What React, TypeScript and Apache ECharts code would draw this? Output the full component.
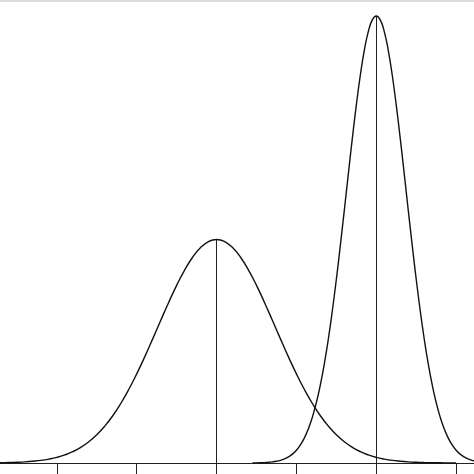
import React, { useEffect, useRef } from "react";
import * as echarts from "echarts";

// x positions (axis units, tick interval 1) and density values
const wideX = [
  -2.9, -2.8, -2.7, -2.6, -2.5, -2.4, -2.3, -2.2, -2.1, -2.0, -1.9, -1.8, -1.7, -1.6, -1.5, -1.4, -1.3, -1.2, -1.1, -1.0,
  -0.9, -0.8, -0.7, -0.6, -0.5, -0.4, -0.3, -0.2, -0.1, 0.0, 0.1, 0.2, 0.3, 0.4, 0.5, 0.6, 0.7, 0.8, 0.9, 1.0,
  1.1, 1.2, 1.3, 1.4, 1.5, 1.6, 1.7, 1.8, 1.9, 2.0, 2.1, 2.2, 2.3, 2.4, 2.5, 2.6, 2.7, 2.8, 2.9, 3.0,
];
const wideY = [
  0.0002, 0.0004, 0.0006, 0.001, 0.0016, 0.0025, 0.0039, 0.0058, 0.0087, 0.0126, 0.0181, 0.0254, 0.0351, 0.0475, 0.0632, 0.0825, 0.1057, 0.1331, 0.1644, 0.1994,
  0.2375, 0.2777, 0.3187, 0.3592, 0.3974, 0.4316, 0.4603, 0.4819, 0.4954, 0.5, 0.4954, 0.4819, 0.4603, 0.4316, 0.3974, 0.3592, 0.3187, 0.2777, 0.2375, 0.1994,
  0.1644, 0.1331, 0.1057, 0.0825, 0.0632, 0.0475, 0.0351, 0.0254, 0.0181, 0.0126, 0.0087, 0.0058, 0.0039, 0.0025, 0.0016, 0.001, 0.0006, 0.0004, 0.0002, 0.0001,
];

const narrowX = [
  0.45, 0.5, 0.55, 0.6, 0.65, 0.7, 0.75, 0.8, 0.85, 0.9, 0.95, 1.0, 1.05, 1.1, 1.15, 1.2, 1.25, 1.3, 1.35, 1.4, 1.45, 1.5,
  1.55, 1.6, 1.65, 1.7, 1.75, 1.8, 1.85, 1.9, 1.95, 2.0, 2.05, 2.1, 2.15, 2.2, 2.25, 2.3, 2.35, 2.4, 2.45, 2.5,
  2.55, 2.6, 2.65, 2.7, 2.75, 2.8, 2.85, 2.9, 2.95, 3.0, 3.05, 3.1, 3.15, 3.2, 3.25, 3.3, 3.35, 3.4, 3.45, 3.5, 3.55, 3.6,
];
const narrowY = [
  0.0002, 0.00034, 0.0006, 0.00094, 0.0015, 0.00246, 0.0039, 0.00598, 0.0091, 0.01354, 0.0198, 0.0286, 0.0404, 0.0561, 0.0766, 0.1027, 0.1353, 0.1751, 0.2226, 0.278, 0.3411, 0.4111,
  0.4868, 0.5661, 0.6469, 0.7261, 0.8007, 0.8674, 0.9231, 0.9651, 0.9912, 1.0, 0.9912, 0.9651, 0.9231, 0.8674, 0.8007, 0.7261,
  0.6469, 0.5661, 0.4868, 0.4111, 0.3411, 0.278, 0.2226, 0.1751, 0.1353, 0.1027, 0.0766, 0.0561, 0.0404, 0.0286, 0.0198, 0.01354, 0.0091, 0.00598, 0.0039, 0.00246, 0.0015, 0.00094, 0.0006, 0.00034, 0.0002, 0.0001,
];

const means = [0, 2];
const peaks = [0.5, 1.0];

export default function App() {
  const ref = useRef<HTMLDivElement>(null);
  useEffect(() => {
    if (!ref.current) return;
    const chart = echarts.init(ref.current, null, { renderer: "svg" });
    const lineStyle = { color: "#111", width: 1.4 };
    chart.setOption({
      animation: false,
      backgroundColor: "#ffffff",
      grid: { left: -23, right: -62, top: 16, bottom: 11, containLabel: false, outerBoundsMode: "none" },
      xAxis: {
        type: "value",
        min: -3,
        max: 4,
        interval: 1,
        axisLine: { show: true, onZero: false, lineStyle: { color: "#222", width: 1.2 } },
        axisTick: { show: true, inside: false, length: 12, lineStyle: { color: "#222", width: 1 } },
        axisLabel: { show: false },
        splitLine: { show: false },
      },
      yAxis: {
        type: "value",
        min: 0,
        max: 1,
        show: false,
        splitLine: { show: false },
      },
      graphic: [
        { type: "rect", shape: { x: 0, y: 0, width: 474, height: 2 }, style: { fill: "#dcdcdc" }, z: 100 },
      ],
      series: [
        {
          type: "line",
          data: wideX.map((x, i) => [x, wideY[i]]),
          smooth: true,
          showSymbol: false,
          lineStyle,
          clip: false,
          markLine: {
            silent: true,
            symbol: ["none", "none"],
            label: { show: false },
            lineStyle: { color: "#222", width: 1, type: "solid" },
            data: [[{ coord: [means[0], 0] }, { coord: [means[0], peaks[0]] }]],
          },
        },
        {
          type: "line",
          data: narrowX.map((x, i) => [x, narrowY[i]]),
          smooth: true,
          showSymbol: false,
          lineStyle,
          clip: false,
          markLine: {
            silent: true,
            symbol: ["none", "none"],
            label: { show: false },
            lineStyle: { color: "#222", width: 1, type: "solid" },
            data: [[{ coord: [means[1], 0] }, { coord: [means[1], peaks[1]] }]],
          },
        },
      ],
    });
    return () => chart.dispose();
  }, []);
  return (
    <div
      ref={ref}
      style={{ position: "fixed", left: 0, top: 0, width: 474, height: 474, background: "#fff" }}
    />
  );
}
